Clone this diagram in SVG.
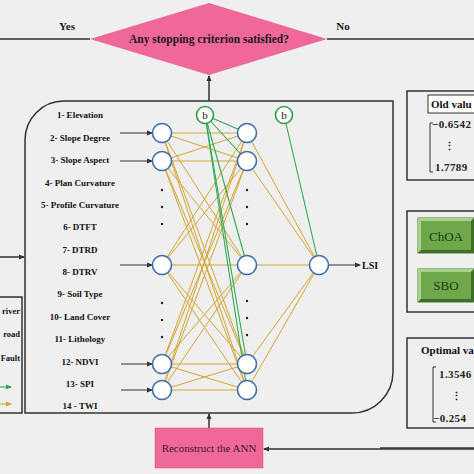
<svg xmlns="http://www.w3.org/2000/svg" width="474" height="474" viewBox="0 0 474 474">
<defs>
<style>
.lbl{font-family:"Liberation Serif",serif;font-weight:bold;font-size:9px;fill:#111;text-anchor:middle}
.ln{stroke:#333;stroke-width:1.5;fill:none}
.thin{stroke:#333;stroke-width:1;fill:none}
.node{fill:#fff;stroke:#3d6ea8;stroke-width:1.6}
.bias{fill:#fff;stroke:#2e9e4a;stroke-width:1.6}
.y{stroke:#d4a530;stroke-width:1}
.g{stroke:#2eaa50;stroke-width:1.1}
.box{fill:none;stroke:#333;stroke-width:1.5}
.num{font-family:"Liberation Serif",serif;font-weight:bold;font-size:11px;letter-spacing:0.4px;fill:#222}
.btn{font-family:"Liberation Serif",serif;font-size:13px;fill:#1f3a1a;text-anchor:middle}
.leg{font-family:"Liberation Serif",serif;font-weight:bold;font-size:8.5px;fill:#111;text-anchor:end}
</style>
<marker id="ah" markerWidth="6" markerHeight="6" refX="5" refY="3" orient="auto" markerUnits="userSpaceOnUse">
<path d="M0,0.5 L6,3 L0,5.5 Z" fill="#333"/>
</marker>
<marker id="ahg" markerWidth="6" markerHeight="6" refX="5" refY="3" orient="auto" markerUnits="userSpaceOnUse">
<path d="M0,0.5 L6,3 L0,5.5 Z" fill="#2eaa50"/>
</marker>
<marker id="ahy" markerWidth="6" markerHeight="6" refX="5" refY="3" orient="auto" markerUnits="userSpaceOnUse">
<path d="M0,0.5 L6,3 L0,5.5 Z" fill="#d4a530"/>
</marker>
</defs>
<rect width="474" height="474" fill="#efefef"/>

<g id="connectors">
<line class="ln" x1="0" y1="39" x2="90" y2="39"/>
<line class="ln" x1="327" y1="39" x2="474" y2="39"/>
<line class="ln" x1="209" y1="101" x2="209" y2="76" marker-end="url(#ah)"/>
<line class="ln" x1="209" y1="428" x2="209" y2="414" marker-end="url(#ah)"/>
<line class="ln" x1="474" y1="449" x2="264" y2="449" marker-end="url(#ah)"/>
<line class="ln" x1="0" y1="257" x2="24" y2="257" marker-end="url(#ah)"/>
<line class="ln" x1="380" y1="448" x2="474" y2="448"/>
<line class="thin" x1="120" y1="133" x2="152" y2="133" marker-end="url(#ah)"/>
<line class="thin" x1="120" y1="161" x2="152" y2="161" marker-end="url(#ah)"/>
<line class="thin" x1="120" y1="265" x2="152" y2="265" marker-end="url(#ah)"/>
<line class="thin" x1="121" y1="364" x2="152" y2="364" marker-end="url(#ah)"/>
<line class="thin" x1="121" y1="390" x2="152" y2="390" marker-end="url(#ah)"/>
<line class="thin" x1="329" y1="265" x2="360" y2="265" marker-end="url(#ah)"/>
<g id="weights-ih">
<line class="y" x1="162" y1="133" x2="247" y2="133"/><line class="y" x1="162" y1="133" x2="247" y2="161"/><line class="y" x1="162" y1="133" x2="247" y2="265"/><line class="y" x1="162" y1="133" x2="247" y2="364"/><line class="y" x1="162" y1="133" x2="247" y2="390"/>
<line class="y" x1="162" y1="161" x2="247" y2="133"/><line class="y" x1="162" y1="161" x2="247" y2="161"/><line class="y" x1="162" y1="161" x2="247" y2="265"/><line class="y" x1="162" y1="161" x2="247" y2="364"/><line class="y" x1="162" y1="161" x2="247" y2="390"/>
<line class="y" x1="162" y1="265" x2="247" y2="133"/><line class="y" x1="162" y1="265" x2="247" y2="161"/><line class="y" x1="162" y1="265" x2="247" y2="265"/><line class="y" x1="162" y1="265" x2="247" y2="364"/><line class="y" x1="162" y1="265" x2="247" y2="390"/>
<line class="y" x1="162" y1="364" x2="247" y2="133"/><line class="y" x1="162" y1="364" x2="247" y2="161"/><line class="y" x1="162" y1="364" x2="247" y2="265"/><line class="y" x1="162" y1="364" x2="247" y2="364"/><line class="y" x1="162" y1="364" x2="247" y2="390"/>
<line class="y" x1="162" y1="390" x2="247" y2="133"/><line class="y" x1="162" y1="390" x2="247" y2="161"/><line class="y" x1="162" y1="390" x2="247" y2="265"/><line class="y" x1="162" y1="390" x2="247" y2="364"/><line class="y" x1="162" y1="390" x2="247" y2="390"/>
</g>
<g id="weights-ho">
<line class="y" x1="247" y1="133" x2="319" y2="265"/><line class="y" x1="247" y1="161" x2="319" y2="265"/><line class="y" x1="247" y1="265" x2="319" y2="265"/><line class="y" x1="247" y1="364" x2="319" y2="265"/><line class="y" x1="247" y1="390" x2="319" y2="265"/>
</g>
<g id="bias-links">
<line class="g" x1="205" y1="115" x2="247" y2="133"/><line class="g" x1="205" y1="115" x2="247" y2="161"/><line class="g" x1="205" y1="115" x2="247" y2="265"/><line class="g" x1="205" y1="115" x2="247" y2="364"/><line class="g" x1="205" y1="115" x2="247" y2="390"/>
<line class="g" x1="284" y1="115" x2="319" y2="265"/>
</g>
</g>

<g id="decision">
<polygon points="209,3 327,39 209,75 90,39" fill="#f0679a"/>
<text x="209" y="43" font-family="Liberation Serif,serif" font-weight="bold" font-size="11.5" fill="#1a1a1a" text-anchor="middle">Any stopping criterion satisfied?</text>
</g>
<text x="67" y="30" font-family="Liberation Serif,serif" font-weight="bold" font-size="11" fill="#1a1a1a" text-anchor="middle">Yes</text>
<text x="343" y="30" font-family="Liberation Serif,serif" font-weight="bold" font-size="11" fill="#1a1a1a" text-anchor="middle">No</text>

<g id="ann-frame">
<path class="box" d="M25,413 L25,140 A39,39 0 0 1 64,101 L393,101 L393,372 A41,41 0 0 1 352,413 Z"/>
</g>

<g id="inputs">
<text class="lbl" x="80" y="118">1- Elevation</text>
<text class="lbl" x="80" y="141">2- Slope Degree</text>
<text class="lbl" x="80" y="163">3- Slope Aspect</text>
<text class="lbl" x="80" y="186">4- Plan Curvature</text>
<text class="lbl" x="80" y="208">5- Profile Curvature</text>
<text class="lbl" x="80" y="230">6- DTFT</text>
<text class="lbl" x="80" y="253">7- DTRD</text>
<text class="lbl" x="80" y="275">8- DTRV</text>
<text class="lbl" x="80" y="297">9- Soil Type</text>
<text class="lbl" x="80" y="320">10- Land Cover</text>
<text class="lbl" x="80" y="342">11- Lithology</text>
<text class="lbl" x="80" y="365">12- NDVI</text>
<text class="lbl" x="80" y="387">13- SPI</text>
<text class="lbl" x="80" y="409">14 - TWI</text>
</g>

<g id="input-layer">
<circle class="node" cx="162" cy="133" r="9.5"/>
<circle class="node" cx="162" cy="161" r="9.5"/>
<circle class="node" cx="162" cy="265" r="9.5"/>
<circle class="node" cx="162" cy="364" r="9.5"/>
<circle class="node" cx="162" cy="390" r="9.5"/>
<g fill="#222"><circle cx="162" cy="190" r="1.2"/><circle cx="162" cy="207" r="1.2"/><circle cx="162" cy="224" r="1.2"/><circle cx="162" cy="303" r="1.2"/><circle cx="162" cy="320" r="1.2"/><circle cx="162" cy="337" r="1.2"/></g>
</g>
<g id="hidden-layer">
<circle class="node" cx="247" cy="133" r="9.5"/>
<circle class="node" cx="247" cy="161" r="9.5"/>
<circle class="node" cx="247" cy="265" r="9.5"/>
<circle class="node" cx="247" cy="364" r="9.5"/>
<circle class="node" cx="247" cy="390" r="9.5"/>
<g fill="#222"><circle cx="247" cy="190" r="1.2"/><circle cx="247" cy="207" r="1.2"/><circle cx="247" cy="224" r="1.2"/><circle cx="247" cy="301" r="1.2"/><circle cx="247" cy="318" r="1.2"/><circle cx="247" cy="335" r="1.2"/></g>
</g>
<g id="output-node">
<circle class="node" cx="319" cy="265" r="9.5"/>
<text x="362" y="269" font-family="Liberation Serif,serif" font-weight="bold" font-size="10" fill="#111">LSI</text>
</g>
<g id="bias1">
<circle class="bias" cx="205" cy="115" r="8.5"/>
<text x="205" y="119" font-family="Liberation Serif,serif" font-size="11" fill="#111" text-anchor="middle">b</text>
</g>
<g id="bias2">
<circle class="bias" cx="284" cy="115" r="8.5"/>
<text x="284" y="119" font-family="Liberation Serif,serif" font-size="11" fill="#111" text-anchor="middle">b</text>
</g>

<g id="legend">
<rect class="box" x="-5" y="297" width="27" height="116"/>
<text class="leg" x="20" y="314">river</text>
<text class="leg" x="20" y="337">road</text>
<text class="leg" x="20" y="361">Fault</text>
<line class="g" x1="0" y1="387" x2="11" y2="387" marker-end="url(#ahg)"/>
<line class="y" x1="0" y1="404" x2="11" y2="404" marker-end="url(#ahy)"/>
</g>

<g id="old-values">
<rect class="box" x="407" y="91" width="80" height="89"/>
<rect x="428" y="95" width="60" height="18" fill="#fff" stroke="#333" stroke-width="1"/>
<text x="431" y="108" font-family="Liberation Serif,serif" font-weight="bold" font-size="11" fill="#111">Old valu</text>
<path d="M433,123 L430,123 L430,172 L433,172" fill="none" stroke="#333" stroke-width="1"/>
<text class="num" x="432" y="128">−0.6542</text>
<text class="num" x="450" y="150" text-anchor="middle">⋮</text>
<text class="num" x="435" y="171">1.7789</text>
</g>

<g id="optimizers">
<rect class="box" x="407" y="211" width="80" height="101"/>
<g id="choa">
<rect x="418" y="218" width="56" height="35" fill="#6ea84a" stroke="#4a7a30" stroke-width="1"/>
<polygon points="418,218 474,218 471,221 421,221 421,250 418,253" fill="#a8d08a"/>
<polygon points="418,253 474,253 474,218 471,221 471,250 421,250" fill="#3e6e28"/>
<text class="btn" x="446" y="241">ChOA</text>
</g>
<g id="sbo">
<rect x="418" y="269" width="56" height="33" fill="#6ea84a" stroke="#4a7a30" stroke-width="1"/>
<polygon points="418,269 474,269 471,272 421,272 421,299 418,302" fill="#a8d08a"/>
<polygon points="418,302 474,302 474,269 471,272 471,299 421,299" fill="#3e6e28"/>
<text class="btn" x="446" y="290">SBO</text>
</g>
</g>

<g id="optimal-values">
<rect class="box" x="407" y="338" width="80" height="90"/>
<text x="421" y="354" font-family="Liberation Serif,serif" font-weight="bold" font-size="11" fill="#111">Optimal va</text>
<path d="M436,367 L433,367 L433,422 L436,422" fill="none" stroke="#333" stroke-width="1"/>
<text class="num" x="439" y="378">1.3546</text>
<text class="num" x="457" y="400" text-anchor="middle">⋮</text>
<text class="num" x="433" y="422">−0.254</text>
</g>

<g id="reconstruct">
<rect x="155" y="428" width="108" height="40" fill="#f0679a" stroke="#d05080" stroke-width="0.5"/>
<text x="209" y="452" font-family="Liberation Serif,serif" font-size="11" fill="#3a1a28" text-anchor="middle">Reconstruct the ANN</text>
</g>
</svg>
